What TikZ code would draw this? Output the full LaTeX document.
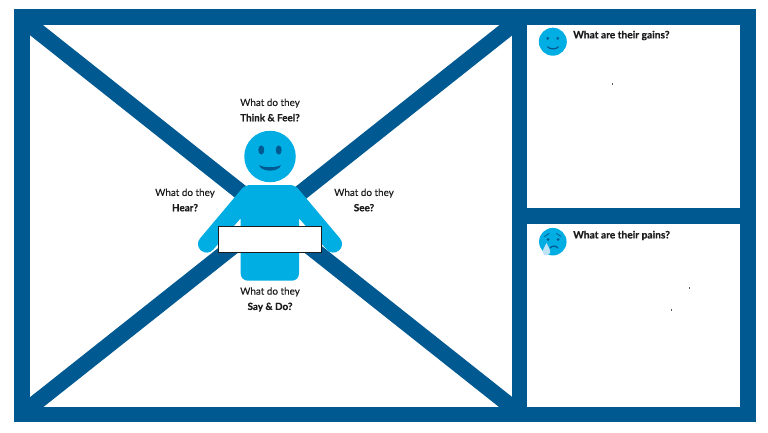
\documentclass[tikz,border=0pt]{standalone}
\usepackage{fontspec}
\setmainfont{Lato}
\newfontfamily\askfont[FakeBold=0.3,BoldFeatures={FakeBold=0.55}]{Lato}
\usetikzlibrary{positioning,calc}
\definecolor{mapblue}{HTML}{005A91}
\definecolor{skin}{HTML}{00AEE3}
\definecolor{tearblue}{HTML}{BFE3F4}
\definecolor{ink}{HTML}{1C1C1C}
\tikzset{
panel/.style={fill=white,draw=none,inner sep=0pt,anchor=north west},
bar/.style={draw=mapblue,line width=16pt},
ask/.style={text=ink,inner sep=0pt,align=center,font={\askfont\fontsize{9.9pt}{15.3pt}\selectfont}},
gainpain/.style={text=ink,inner sep=0pt,anchor=west,font={\askfont\fontsize{10.2pt}{12pt}\selectfont\bfseries}},
face/.style={circle,fill=skin,draw=none,inner sep=0pt},
feature/.style={draw=mapblue,line cap=round},
speck/.style={fill=black!65,draw=none,inner sep=0pt,minimum width=0.8pt,minimum height=2pt}
}

\begin{document}
\begin{tikzpicture}[x=1pt,y=-1pt]
  \useasboundingbox (0,0) rectangle (768,433);
  \node[panel,fill=mapblue,minimum width=742pt,minimum height=413pt] (frame) at (14,9) {};
  \node[panel,minimum width=482pt,minimum height=382pt] (main) at (30,25) {};
  \node[panel,minimum width=213pt,minimum height=183pt] (gains) at (527,25) {};
  \node[panel,minimum width=213pt,minimum height=183pt] (pains) at (527,224) {};
  \draw[bar] (main.north west)-- (main.south east);
  \draw[bar] (main.south west)-- (main.north east);
  % person
  \node[face,minimum size=51.5pt] (head) at (270,156.5) {};
  \fill[mapblue] (261.3,150) ellipse (3pt and 4.6pt);
  \fill[mapblue] (278.7,150) ellipse (3pt and 4.6pt);
  \fill[mapblue] (259,165) .. controls (264,168) and (276,168) .. (281,165) .. controls (279,172.5) and (261,172.5) .. (259,165) -- cycle;
  \fill[skin] [rounded corners=5pt] (270,185) -- (295,185) [rounded corners=8.4pt] -- (345.5,245) -- (332.4,256)
    [sharp corners] -- (299,218.3) [rounded corners=7pt] -- (299,280.7) -- (240.7,280.7)
    [sharp corners] -- (240.7,218.3) [rounded corners=8.4pt] -- (207.6,256) -- (194.5,245)
    [rounded corners=5pt] -- (245,185) -- cycle;
  \node[draw=ink,fill=white,line width=0.9pt,minimum width=103pt,minimum height=26pt,inner sep=0pt] (namebox) at (270.3,239.2) {};
  % questions
  \node[ask] (think) at (270,110) {What do they\\\textbf{Think \& Feel?}};
  \node[ask] (hear) at (185,200) {What do they\\\textbf{Hear?}};
  \node[ask] (see) at (364,200) {What do they\\\textbf{See?}};
  \node[ask] (say) at (270,299.5) {What do they\\\textbf{Say \& Do?}};
  % right side
  \node[face,minimum size=28pt] (gainface) at (552.8,41.7) {};
  \fill[mapblue] (547.7,38.3) circle (1.5pt);
  \fill[mapblue] (557.7,38.3) circle (1.5pt);
  \draw[feature,line width=1.3pt] (547.7,47) .. controls (550,49.5) and (556,49.5) .. (558.3,47);
  \node[gainpain] (gainask) at (573,35.5) {What are their gains?};
  \node[face,minimum size=27.5pt] (painface) at (552.8,241.7) {};
  \fill[mapblue] (548,239.5) circle (1.5pt);
  \fill[mapblue] (558,239.5) circle (1.5pt);
  \draw[feature,line width=0.8pt] (544.5,236.5) -- (549,233.5);
  \draw[feature,line width=0.8pt] (561,236.5) -- (556.5,233.5);
  \draw[feature,line width=1.3pt] (550,248) .. controls (552,245.5) and (556,245.5) .. (558,248);
  \fill[tearblue] (546.5,243) .. controls (549,248) and (551,251) .. (550,253) .. controls (548,256) and (544,256) .. (543,253) .. controls (542,251) and (544,248) .. (546.5,243) -- cycle;
  \node[gainpain] (painask) at (573,235.5) {What are their pains?};
  \node[speck] (speck1) at (612.3,84) {};
  \node[speck] (speck2) at (689.3,287.7) {};
  \node[speck] (speck3) at (671.3,310) {};
\end{tikzpicture}
\end{document}
